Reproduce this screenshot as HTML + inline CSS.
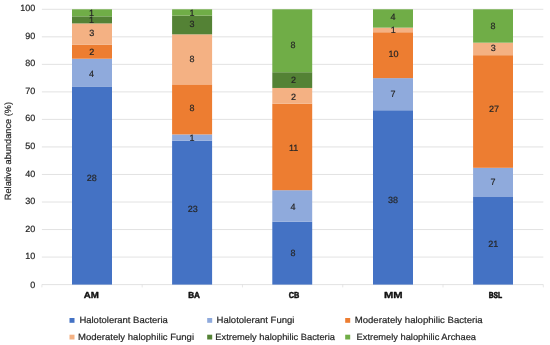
<!DOCTYPE html>
<html><head><meta charset="utf-8"><title>Relative abundance</title>
<style>html,body{margin:0;padding:0;background:#fff;overflow:hidden}svg{display:block}text{font-family:"Liberation Sans",sans-serif;text-rendering:geometricPrecision}</style></head><body>
<svg width="550" height="345" viewBox="0 0 550 345">
<rect width="550" height="345" fill="#fff"/>
<line x1="41.9" x2="543.3" y1="284.60" y2="284.60" stroke="#DBDBDB" stroke-width="0.8"/>
<line x1="41.9" x2="543.3" y1="257.07" y2="257.07" stroke="#DBDBDB" stroke-width="0.8"/>
<line x1="41.9" x2="543.3" y1="229.54" y2="229.54" stroke="#DBDBDB" stroke-width="0.8"/>
<line x1="41.9" x2="543.3" y1="202.01" y2="202.01" stroke="#DBDBDB" stroke-width="0.8"/>
<line x1="41.9" x2="543.3" y1="174.48" y2="174.48" stroke="#DBDBDB" stroke-width="0.8"/>
<line x1="41.9" x2="543.3" y1="146.95" y2="146.95" stroke="#DBDBDB" stroke-width="0.8"/>
<line x1="41.9" x2="543.3" y1="119.42" y2="119.42" stroke="#DBDBDB" stroke-width="0.8"/>
<line x1="41.9" x2="543.3" y1="91.89" y2="91.89" stroke="#DBDBDB" stroke-width="0.8"/>
<line x1="41.9" x2="543.3" y1="64.36" y2="64.36" stroke="#DBDBDB" stroke-width="0.8"/>
<line x1="41.9" x2="543.3" y1="36.83" y2="36.83" stroke="#DBDBDB" stroke-width="0.8"/>
<line x1="41.9" x2="543.3" y1="9.30" y2="9.30" stroke="#DBDBDB" stroke-width="0.8"/>
<line x1="41.90" x2="41.90" y1="284.60" y2="287.40" stroke="#DDDDDD" stroke-width="0.7"/>
<line x1="142.18" x2="142.18" y1="284.60" y2="287.40" stroke="#DDDDDD" stroke-width="0.7"/>
<line x1="242.46" x2="242.46" y1="284.60" y2="287.40" stroke="#DDDDDD" stroke-width="0.7"/>
<line x1="342.74" x2="342.74" y1="284.60" y2="287.40" stroke="#DDDDDD" stroke-width="0.7"/>
<line x1="443.02" x2="443.02" y1="284.60" y2="287.40" stroke="#DDDDDD" stroke-width="0.7"/>
<line x1="543.30" x2="543.30" y1="284.60" y2="287.40" stroke="#DDDDDD" stroke-width="0.7"/>
<text x="35.3" y="288.00" font-size="9" text-anchor="end" fill="#262626" stroke="#262626" stroke-width="0.2">0</text>
<text x="35.3" y="259.12" font-size="9" text-anchor="end" fill="#262626" stroke="#262626" stroke-width="0.2">10</text>
<text x="35.3" y="231.59" font-size="9" text-anchor="end" fill="#262626" stroke="#262626" stroke-width="0.2">20</text>
<text x="35.3" y="204.06" font-size="9" text-anchor="end" fill="#262626" stroke="#262626" stroke-width="0.2">30</text>
<text x="35.3" y="176.53" font-size="9" text-anchor="end" fill="#262626" stroke="#262626" stroke-width="0.2">40</text>
<text x="35.3" y="149.00" font-size="9" text-anchor="end" fill="#262626" stroke="#262626" stroke-width="0.2">50</text>
<text x="35.3" y="121.47" font-size="9" text-anchor="end" fill="#262626" stroke="#262626" stroke-width="0.2">60</text>
<text x="35.3" y="93.94" font-size="9" text-anchor="end" fill="#262626" stroke="#262626" stroke-width="0.2">70</text>
<text x="35.3" y="66.41" font-size="9" text-anchor="end" fill="#262626" stroke="#262626" stroke-width="0.2">80</text>
<text x="35.3" y="38.88" font-size="9" text-anchor="end" fill="#262626" stroke="#262626" stroke-width="0.2">90</text>
<text x="35.3" y="11.35" font-size="9" text-anchor="end" fill="#262626" stroke="#262626" stroke-width="0.2">100</text>
<rect x="72.00" y="86.95" width="40.00" height="197.65" fill="#4472C4"/>
<rect x="72.00" y="58.71" width="40.00" height="28.24" fill="#8FAADC"/>
<rect x="72.00" y="44.59" width="40.00" height="14.12" fill="#ED7D31"/>
<rect x="72.00" y="23.42" width="40.00" height="21.18" fill="#F4B183"/>
<rect x="72.00" y="16.36" width="40.00" height="7.06" fill="#548235"/>
<rect x="72.00" y="9.30" width="40.00" height="7.06" fill="#70AD47"/>
<text x="91.70" y="180.50" font-size="9" text-anchor="middle" fill="#262626" stroke="#262626" stroke-width="0.2">28</text>
<text x="91.50" y="76.70" font-size="9" text-anchor="middle" fill="#262626" stroke="#262626" stroke-width="0.2">4</text>
<text x="91.75" y="54.80" font-size="9" text-anchor="middle" fill="#262626" stroke="#262626" stroke-width="0.2">2</text>
<text x="91.80" y="36.30" font-size="9" text-anchor="middle" fill="#262626" stroke="#262626" stroke-width="0.2">3</text>
<text x="91.40" y="22.90" font-size="9" text-anchor="middle" fill="#262626" stroke="#262626" stroke-width="0.2">1</text>
<text x="91.40" y="15.50" font-size="9" text-anchor="middle" fill="#262626" stroke="#262626" stroke-width="0.2">1</text>
<text x="83.70" y="297.6" font-size="8.7" font-weight="bold" textLength="15.10" lengthAdjust="spacingAndGlyphs" fill="#111" stroke="#111" stroke-width="0.35" stroke-linejoin="round">AM</text>
<rect x="172.10" y="140.69" width="40.00" height="143.91" fill="#4472C4"/>
<rect x="172.10" y="134.44" width="40.00" height="6.26" fill="#8FAADC"/>
<rect x="172.10" y="84.38" width="40.00" height="50.05" fill="#ED7D31"/>
<rect x="172.10" y="34.33" width="40.00" height="50.05" fill="#F4B183"/>
<rect x="172.10" y="15.56" width="40.00" height="18.77" fill="#548235"/>
<rect x="172.10" y="9.30" width="40.00" height="6.26" fill="#70AD47"/>
<text x="192.70" y="212.40" font-size="9" text-anchor="middle" fill="#262626" stroke="#262626" stroke-width="0.2">23</text>
<text x="192.00" y="140.70" font-size="9" text-anchor="middle" fill="#262626" stroke="#262626" stroke-width="0.2">1</text>
<text x="192.05" y="110.70" font-size="9" text-anchor="middle" fill="#262626" stroke="#262626" stroke-width="0.2">8</text>
<text x="191.90" y="61.50" font-size="9" text-anchor="middle" fill="#262626" stroke="#262626" stroke-width="0.2">8</text>
<text x="192.10" y="27.40" font-size="9" text-anchor="middle" fill="#262626" stroke="#262626" stroke-width="0.2">3</text>
<text x="191.90" y="15.70" font-size="9" text-anchor="middle" fill="#262626" stroke="#262626" stroke-width="0.2">1</text>
<text x="188.20" y="297.6" font-size="8.7" font-weight="bold" textLength="11.80" lengthAdjust="spacingAndGlyphs" fill="#111" stroke="#111" stroke-width="0.5" stroke-linejoin="round">BA</text>
<rect x="272.30" y="221.67" width="39.90" height="62.93" fill="#4472C4"/>
<rect x="272.30" y="190.21" width="39.90" height="31.46" fill="#8FAADC"/>
<rect x="272.30" y="103.69" width="39.90" height="86.52" fill="#ED7D31"/>
<rect x="272.30" y="87.96" width="39.90" height="15.73" fill="#F4B183"/>
<rect x="272.30" y="72.23" width="39.90" height="15.73" fill="#548235"/>
<rect x="272.30" y="9.30" width="39.90" height="62.93" fill="#70AD47"/>
<text x="292.95" y="256.30" font-size="9" text-anchor="middle" fill="#262626" stroke="#262626" stroke-width="0.2">8</text>
<text x="293.10" y="209.90" font-size="9" text-anchor="middle" fill="#262626" stroke="#262626" stroke-width="0.2">4</text>
<text x="293.60" y="150.90" font-size="9" text-anchor="middle" fill="#262626" stroke="#262626" stroke-width="0.2">11</text>
<text x="293.50" y="99.90" font-size="9" text-anchor="middle" fill="#262626" stroke="#262626" stroke-width="0.2">2</text>
<text x="293.50" y="82.60" font-size="9" text-anchor="middle" fill="#262626" stroke="#262626" stroke-width="0.2">2</text>
<text x="292.95" y="47.50" font-size="9" text-anchor="middle" fill="#262626" stroke="#262626" stroke-width="0.2">8</text>
<text x="288.70" y="297.6" font-size="8.7" font-weight="bold" textLength="10.60" lengthAdjust="spacingAndGlyphs" fill="#111" stroke="#111" stroke-width="0.5" stroke-linejoin="round">CB</text>
<rect x="373.00" y="110.24" width="40.00" height="174.36" fill="#4472C4"/>
<rect x="373.00" y="78.13" width="40.00" height="32.12" fill="#8FAADC"/>
<rect x="373.00" y="32.24" width="40.00" height="45.88" fill="#ED7D31"/>
<rect x="373.00" y="27.65" width="40.00" height="4.59" fill="#F4B183"/>
<rect x="373.00" y="9.30" width="40.00" height="18.35" fill="#70AD47"/>
<text x="393.05" y="203.00" font-size="9" text-anchor="middle" fill="#262626" stroke="#262626" stroke-width="0.2">38</text>
<text x="392.90" y="97.40" font-size="9" text-anchor="middle" fill="#262626" stroke="#262626" stroke-width="0.2">7</text>
<text x="393.50" y="57.30" font-size="9" text-anchor="middle" fill="#262626" stroke="#262626" stroke-width="0.2">10</text>
<text x="393.15" y="33.40" font-size="9" text-anchor="middle" fill="#262626" stroke="#262626" stroke-width="0.2">1</text>
<text x="393.10" y="20.35" font-size="9" text-anchor="middle" fill="#262626" stroke="#262626" stroke-width="0.2">4</text>
<text x="384.00" y="297.6" font-size="8.7" font-weight="bold" textLength="18.70" lengthAdjust="spacingAndGlyphs" fill="#111" stroke="#111" stroke-width="0.3" stroke-linejoin="round">MM</text>
<rect x="473.10" y="197.00" width="39.90" height="87.60" fill="#4472C4"/>
<rect x="473.10" y="167.81" width="39.90" height="29.20" fill="#8FAADC"/>
<rect x="473.10" y="55.18" width="39.90" height="112.62" fill="#ED7D31"/>
<rect x="473.10" y="42.67" width="39.90" height="12.51" fill="#F4B183"/>
<rect x="473.10" y="9.30" width="39.90" height="33.37" fill="#70AD47"/>
<text x="493.35" y="246.60" font-size="9" text-anchor="middle" fill="#262626" stroke="#262626" stroke-width="0.2">21</text>
<text x="492.90" y="184.60" font-size="9" text-anchor="middle" fill="#262626" stroke="#262626" stroke-width="0.2">7</text>
<text x="494.05" y="111.80" font-size="9" text-anchor="middle" fill="#262626" stroke="#262626" stroke-width="0.2">27</text>
<text x="493.35" y="51.10" font-size="9" text-anchor="middle" fill="#262626" stroke="#262626" stroke-width="0.2">3</text>
<text x="493.05" y="29.30" font-size="9" text-anchor="middle" fill="#262626" stroke="#262626" stroke-width="0.2">8</text>
<text x="488.70" y="297.6" font-size="8.7" font-weight="bold" textLength="13.50" lengthAdjust="spacingAndGlyphs" fill="#111" stroke="#111" stroke-width="0.6" stroke-linejoin="round">BSL</text>
<text transform="translate(10.8,151.10) rotate(-90)" font-size="9" text-anchor="middle" textLength="98.10" lengthAdjust="spacingAndGlyphs" fill="#262626" stroke="#262626" stroke-width="0.2">Relative abundance (%)</text>
<rect x="69.5" y="318.0" width="5" height="4.8" fill="#4472C4"/>
<text x="79.40" y="322.8" font-size="9" textLength="88.50" lengthAdjust="spacingAndGlyphs" fill="#262626" stroke="#262626" stroke-width="0.2">Halotolerant Bacteria</text>
<rect x="207.2" y="318.0" width="5" height="4.8" fill="#8FAADC"/>
<text x="216.50" y="322.8" font-size="9" textLength="78.00" lengthAdjust="spacingAndGlyphs" fill="#262626" stroke="#262626" stroke-width="0.2">Halotolerant Fungi</text>
<rect x="345.2" y="318.0" width="5" height="4.8" fill="#ED7D31"/>
<text x="354.70" y="322.8" font-size="9" textLength="128.00" lengthAdjust="spacingAndGlyphs" fill="#262626" stroke="#262626" stroke-width="0.2">Moderately halophilic Bacteria</text>
<rect x="69.5" y="334.7" width="5" height="4.8" fill="#F4B183"/>
<text x="78.00" y="340.2" font-size="9" textLength="116.00" lengthAdjust="spacingAndGlyphs" fill="#262626" stroke="#262626" stroke-width="0.2">Moderately halophilic Fungi</text>
<rect x="207.2" y="334.7" width="5" height="4.8" fill="#548235"/>
<text x="215.35" y="340.2" font-size="9" textLength="119.65" lengthAdjust="spacingAndGlyphs" fill="#262626" stroke="#262626" stroke-width="0.2">Extremely halophilic Bacteria</text>
<rect x="345.2" y="334.7" width="5" height="4.8" fill="#70AD47"/>
<text x="356.60" y="340.2" font-size="9" textLength="119.40" lengthAdjust="spacingAndGlyphs" fill="#262626" stroke="#262626" stroke-width="0.2">Extremely halophilic Archaea</text>
</svg></body></html>
